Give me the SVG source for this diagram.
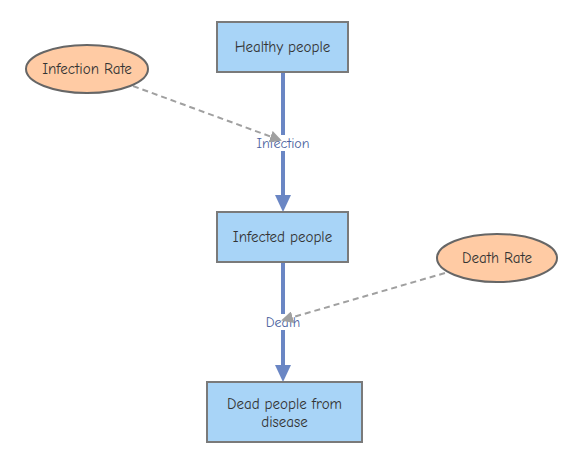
<svg xmlns="http://www.w3.org/2000/svg" width="584" height="464" viewBox="0 0 584 464">
<style>
.box{fill:#A8D4F7;stroke:#7a7a7a;stroke-width:2}
.ell{fill:#FFCBA4;stroke:#666;stroke-width:2}
.t{font-family:"Comic Sans MS","Comic Neue","Open Sans","DejaVu Sans",sans-serif;font-size:15px;fill:#333;text-anchor:middle}
.lbl{font-family:"Comic Sans MS","Comic Neue","Open Sans","DejaVu Sans",sans-serif;font-size:14px;fill:#4A5F9E;text-anchor:middle}
.flow{stroke:#6A86C4;stroke-width:4;fill:none}
.dash{stroke:#A0A0A0;stroke-width:2;stroke-dasharray:6 4;fill:none}
</style>
<defs>
<marker id="ah" markerWidth="12" markerHeight="12" refX="10" refY="6" orient="auto" markerUnits="userSpaceOnUse" viewBox="0 0 12 12">
<path d="M0,0 L12,6 L0,12 z" fill="#A0A0A0"/>
</marker>
</defs>
<rect width="584" height="464" fill="#fff"/>
<g id="connectors">
<line class="flow" x1="283" y1="72" x2="283" y2="198"/>
<path d="M275,195 L291,195 L283,212 z" fill="#6A86C4"/>
<line class="flow" x1="283" y1="262" x2="283" y2="368"/>
<path d="M275,365 L291,365 L283,382 z" fill="#6A86C4"/>
<g id="label-infection">
<rect x="250" y="135" width="66" height="16" fill="#fff"/>
<text class="lbl" x="283" y="148">Infection</text>
</g>
<g id="label-death">
<rect x="262" y="314" width="42" height="16" fill="#fff"/>
<text class="lbl" x="283" y="327">Death</text>
</g>
<line class="dash" x1="133" y1="86" x2="280" y2="140" marker-end="url(#ah)"/>
<line class="dash" x1="445" y1="273" x2="283" y2="320" marker-end="url(#ah)"/>
</g>
<g id="healthy">
<rect class="box" x="217" y="22" width="131" height="50"/>
<text class="t" x="282.5" y="52">Healthy people</text>
</g>
<g id="infected">
<rect class="box" x="217" y="212" width="131" height="50"/>
<text class="t" x="282.5" y="242">Infected people</text>
</g>
<g id="dead">
<rect class="box" x="207" y="382" width="155" height="60"/>
<text class="t" x="284.5" y="409">Dead people from</text>
<text class="t" x="284.5" y="427">disease</text>
</g>
<g id="infection-rate">
<ellipse class="ell" cx="87" cy="69" rx="61" ry="24"/>
<text class="t" x="87" y="74">Infection Rate</text>
</g>
<g id="death-rate">
<ellipse class="ell" cx="497" cy="258" rx="60" ry="24"/>
<text class="t" x="497" y="263">Death Rate</text>
</g>
</svg>
